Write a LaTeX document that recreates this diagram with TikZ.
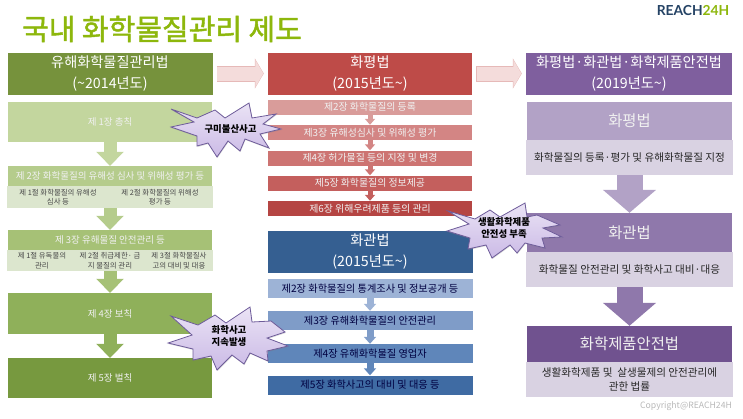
\documentclass[tikz,border=0pt]{standalone}
\usepackage{fontspec}
\setmainfont{Noto Sans CJK KR}
\newfontfamily\logofont{Lato}
\newfontfamily\titlefont[FakeBold=1.6]{Noto Sans CJK KR}
\usepackage{tikz}
\usetikzlibrary{arrows.meta,shadows}

\definecolor{titlegreen}{HTML}{8DB70C}
\definecolor{greenhead}{HTML}{76923C}
\definecolor{greenone}{HTML}{C3D69E}
\definecolor{greentwo}{HTML}{B5CC8C}
\definecolor{greenthree}{HTML}{A6C176}
\definecolor{greenfour}{HTML}{8FB05A}
\definecolor{greenfive}{HTML}{77993F}
\definecolor{greensub}{HTML}{DCE6CE}
\definecolor{redhead}{HTML}{BE4B48}
\definecolor{redone}{HTML}{D99C9A}
\definecolor{redtwo}{HTML}{D38584}
\definecolor{redthree}{HTML}{CD7472}
\definecolor{redfour}{HTML}{C45F5D}
\definecolor{redfive}{HTML}{B54543}
\definecolor{bluehead}{HTML}{355F91}
\definecolor{blueone}{HTML}{9DB3D6}
\definecolor{bluetwo}{HTML}{7F9CC8}
\definecolor{bluethree}{HTML}{5F86BA}
\definecolor{bluefour}{HTML}{3F6BA3}
\definecolor{purplehead}{HTML}{7F5F9E}
\definecolor{purpleone}{HTML}{B2A2C6}
\definecolor{purpletwo}{HTML}{8F78AB}
\definecolor{purplethree}{HTML}{70528F}
\definecolor{purplesub}{HTML}{D9D2E2}
\definecolor{pinkfill}{HTML}{F4DCDB}
\definecolor{pinkedge}{HTML}{E6B9B8}
\definecolor{staredge}{HTML}{6E5C9A}
\definecolor{startop}{HTML}{EAE3F5}
\definecolor{starbottom}{HTML}{CBBAE6}

\tikzset{
  plate/.style={inner sep=0pt, align=center, text=white},
  headplate/.style={plate, font=\fontsize{14.2}{21}\selectfont, execute at begin node=\rule{0pt}{20pt}},
  chapter/.style={plate, font=\fontsize{9.5}{10}\selectfont, text=white!94!black},
  redchapter/.style={plate, font=\fontsize{9.9}{10}\selectfont, text=white!94!black, minimum width=204pt, minimum height=15pt},
  bluechapter/.style={plate, font=\fontsize{10.2}{10}\selectfont, text=black!75!blue, minimum width=205pt, minimum height=19pt},
  cell/.style={inner sep=0pt, align=center, text=black!72, font=\fontsize{7.4}{9.5}\selectfont},
  lawtext/.style={plate, font=\fontsize{10.6}{14.5}\selectfont, text=black!85, fill=purplesub, minimum width=207pt, minimum height=35pt},
  lawname/.style={plate, font=\fontsize{15.4}{18}\selectfont, text=white!94!black, minimum width=205pt},
  bigdown/.style={line width=13pt, -{Triangle[length=14pt,width=27pt]}},
  tinydown/.style={line width=5pt, -{Triangle[length=6pt,width=10pt]}},
  smalldown/.style={line width=7pt, -{Triangle[length=7pt,width=12pt]}},
  hugedown/.style={line width=26pt, -{Triangle[length=23pt,width=52pt]}},
  nextlaw/.style={pinkfill, line width=14pt, shorten <=4.5pt, shorten >=4.5pt, -{Triangle[length=8pt,width=27pt]},
    preaction={draw=pinkedge, line width=16pt, shorten <=4pt, shorten >=4pt, -{Triangle[length=9pt,width=30pt]}}},
  burst/.style={draw=staredge, line width=.8pt, line join=miter, top color=startop, bottom color=starbottom,
    drop shadow={shadow xshift=.5pt, shadow yshift=-1pt, opacity=.3}},
  bursttext/.style={inner sep=0pt, align=center, font=\fontsize{9.4}{12}\selectfont\bfseries}
}

\begin{document}
\begin{tikzpicture}[x=1pt,y=-1pt]
\useasboundingbox (0,0) rectangle (743,418);

\node (title) [inner sep=0pt, text=titlegreen, font=\fontsize{29}{32}\selectfont\titlefont] at (162,29) {국내 화학물질관리 제도};
\node (logo) [inner sep=0pt, font=\fontsize{13.8}{14}\selectfont\logofont\bfseries] at (693,10.5) {\textcolor{bluehead!70!black}{REACH}\textcolor{titlegreen}{24H}};

% first column
\node (oldlaw) [headplate, fill=greenhead, minimum width=205pt, minimum height=42pt] at (110,73.5) {유해화학물질관리법\\(\textasciitilde2014년도)};
\node (gone) [chapter, fill=greenone, minimum width=204pt, minimum height=40pt] at (110,122) {제 1장 총칙};
\node (gtwo) [chapter, fill=greentwo, minimum width=204pt, minimum height=20pt] at (110,176) {제 2장 화학물질의 유해성 심사 및 위해성 평가 등};
\node (gtwosub) [fill=greensub, inner sep=0pt, minimum width=206pt, minimum height=22pt] at (110,197) {};
\node (gtwoa) [cell] at (58,197) {제 1절 화학물질의 유해성\\심사 등};
\node (gtwob) [cell] at (160,197) {제 2절 화학물질의 위해성\\평가 등};
\node (gthree) [chapter, fill=greenthree, minimum width=204pt, minimum height=20pt] at (110,240) {제 3장 유해물질 안전관리 등};
\node (gthreesub) [fill=greensub, inner sep=0pt, minimum width=206pt, minimum height=21pt] at (110,260.5) {};
\node (gthreea) [cell] at (42,260.5) {제 1절 유독물의\\관리};
\node (gthreeb) [cell] at (110,260.5) {제 2절 취급제한· 금\\지 물질의 관리};
\node (gthreec) [cell] at (179,260.5) {제 3절 화학물질사\\고의 대비 및 대응};
\node (gfour) [chapter, fill=greenfour, minimum width=204pt, minimum height=41pt] at (110,313.5) {제 4장 보칙};
\node (gfive) [chapter, fill=greenfive, minimum width=204pt, minimum height=40pt] at (110,378) {제 5장 벌칙};
\draw[bigdown, greenone] (gone.south) -- (gtwo.north);
\draw[bigdown, greentwo] (gtwosub.south) -- (gthree.north);
\draw[bigdown, greenthree] (gthreesub.south) -- (gfour.north);
\draw[bigdown, greenfour] (gfour.south) -- (gfive.north);

% second column
\node (hwapyung) [headplate, fill=redhead, minimum width=204pt, minimum height=42pt] at (370,73.5) {화평법\\(2015년도\textasciitilde)};
\node (rone) [redchapter, fill=redone] at (370,107) {제2장 화학물질의 등록};
\node (rtwo) [redchapter, fill=redtwo] at (370,132.5) {제3장 유해성심사 및 위해성 평가};
\node (rthree) [redchapter, fill=redthree] at (370,158) {제4장 허가물질 등의 지정 및 변경};
\node (rfour) [redchapter, fill=redfour] at (370,183) {제5장 화학물질의 정보제공};
\node (rfive) [redchapter, fill=redfive] at (370,208.5) {제6장 위해우려제품 등의 관리};
\draw[tinydown, redone] (rone.south) -- (rtwo.north);
\draw[tinydown, redtwo] (rtwo.south) -- (rthree.north);
\draw[tinydown, redthree] (rthree.south) -- (rfour.north);
\draw[tinydown, redfour] (rfour.south) -- (rfive.north);
\node (hwagwan) [headplate, fill=bluehead, minimum width=205pt, minimum height=42pt] at (370,252) {화관법\\(2015년도\textasciitilde)};
\node (bone) [bluechapter, fill=blueone] at (370,288.5) {제2장 화학물질의 통계조사 및 정보공개 등};
\node (btwo) [bluechapter, fill=bluetwo] at (370,320.5) {제3장 유해화학물질의 안전관리};
\node (bthree) [bluechapter, fill=bluethree] at (370,353.5) {제4장 유해화학물질 영업자};
\node (bfour) [bluechapter, fill=bluefour] at (370,385) {제5장 화학사고의 대비 및 대응 등};
\draw[smalldown, blueone] (bone.south) -- (btwo.north);
\draw[smalldown, bluetwo] (btwo.south) -- (bthree.north);
\draw[smalldown, bluethree] (bthree.south) -- (bfour.north);

% third column
\node (newlaw) [headplate, fill=purplehead, minimum width=206pt, minimum height=42pt] at (629,73.5) {화평법·화관법·화학제품안전법\\(2019년도\textasciitilde)};
\node (pone) [lawname, fill=purpleone, minimum height=38pt] at (629.5,121) {화평법};
\node (ponesub) [lawtext] at (629.5,157.5) {화학물질의 등록·평가 및 유해화학물질 지정};
\node (ptwo) [lawname, fill=purpletwo, minimum height=39pt] at (629.5,232.5) {화관법};
\node (ptwosub) [lawtext] at (629.5,269.5) {화학물질 안전관리 및 화학사고 대비·대응};
\node (pthree) [lawname, fill=purplethree, minimum height=36pt] at (629.5,344) {화학제품안전법};
\node (pthreesub) [lawtext] at (629.5,379.5) {생활화학제품 및 \ 살생물제의 안전관리에\\관한 법률};
\draw[hugedown, purpleone] (ponesub.south) -- (ptwo.north);
\draw[hugedown, purpletwo] (ptwosub.south) -- (pthree.north);

\draw[nextlaw] (oldlaw.east) -- (hwapyung.west);
\draw[nextlaw] (hwapyung.east) -- (newlaw.west);

% accidents
\draw[burst] (171,109) -- (197,118) -- (215,110) -- (225,118) -- (249,103) -- (252,118) -- (276,114) -- (263,124) -- (281,129) -- (260,134) -- (269,148) -- (245,139) -- (240,151) -- (228,141) -- (217,157) -- (208,143) -- (197,146) -- (197,136) -- (171,127) -- (194,122) -- cycle;
\node (gumi) [bursttext] at (230.5,129) {구미불산사고};
\draw[burst] (171,316) -- (198,325) -- (215,315) -- (226,323) -- (250,307) -- (252,322) -- (271,321) -- (285,332) -- (267,338) -- (288,346) -- (267,351) -- (268,361) -- (250,353) -- (244,364) -- (232,355) -- (217,370) -- (211,356) -- (193,360) -- (193,349) -- (168,343) -- (192,335) -- cycle;
\node (accident) [bursttext] at (229,336) {화학사고\\지속발생};
\draw[burst] (448,211) -- (475,219) -- (490,210) -- (500,217) -- (525,203) -- (527,217) -- (537,215) -- (560,225) -- (543,228) -- (562,237) -- (542,238) -- (545,248) -- (525,243) -- (517,253) -- (510,245) -- (492,258) -- (486,245) -- (468,249) -- (470,238) -- (447,231) -- (469,224) -- cycle;
\node (safety) [bursttext] at (504,228) {생활화학제품\\안전성 부족};

\node (copyright) [inner sep=0pt, text=black!28, font=\fontsize{8.7}{10}\selectfont] at (686,406) {Copyright@REACH24H};
\end{tikzpicture}
\end{document}
